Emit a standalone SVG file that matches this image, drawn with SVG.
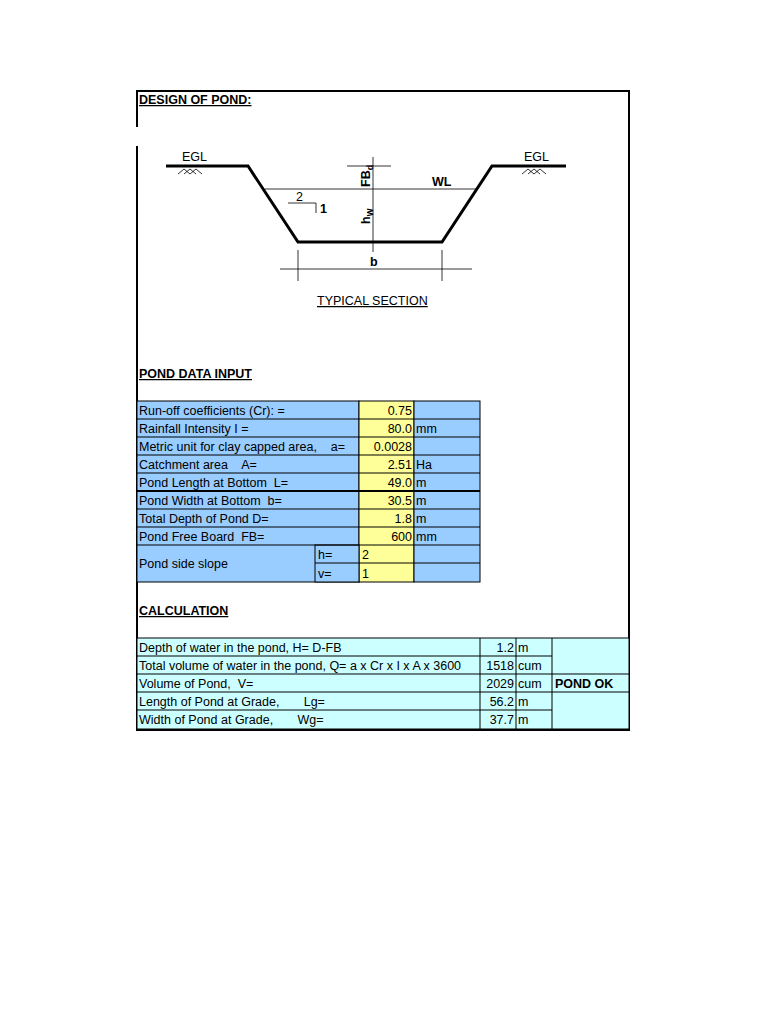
<svg xmlns="http://www.w3.org/2000/svg" width="768" height="1024" viewBox="0 0 768 1024">
<style>
text{font-family:"Liberation Sans",Arial,sans-serif;font-size:12.5px;fill:#000;white-space:pre}
.b{font-weight:bold}
.thin{stroke:#000;stroke-width:0.8;fill:none}
.thick{stroke:#000;stroke-width:3;fill:none}
.r{text-anchor:end}
</style>
<rect width="768" height="1024" fill="#fff"/>
<g id="frame" fill="none" stroke="#000" stroke-width="2">
<polyline points="137,127 137,91 629,91 629,730 137,730 137,146"/>
</g>
<text x="139" y="104" class="b" text-decoration="underline">DESIGN OF POND:</text>
<g id="section">
<polyline class="thick" points="166,166 248,166 298,242 442,242 492,166 566,166"/>
<line class="thin" x1="265" y1="189" x2="478" y2="189"/>
<line class="thin" x1="373" y1="157" x2="373" y2="252"/>
<line class="thin" x1="347" y1="166" x2="391" y2="166"/>
<line class="thin" x1="280" y1="269" x2="472" y2="269"/>
<line class="thin" x1="298" y1="250" x2="298" y2="281"/>
<line class="thin" x1="442" y1="250" x2="442" y2="281"/>
<line class="thin" x1="288" y1="203" x2="316" y2="203"/>
<line class="thin" x1="316" y1="203" x2="316" y2="213"/>
<g class="thin"><path d="M178,174 l6,-5 l6,5 M184,174 l6,-5 l6,5 M190,174 l6,-5 l6,5"/><path d="M522,174 l6,-5 l6,5 M528,174 l6,-5 l6,5 M534,174 l6,-5 l6,5"/></g>
<text x="182" y="161" font-size="10.5">EGL</text>
<text x="524" y="161" font-size="10.5">EGL</text>
<text x="432" y="186" font-size="11.5" class="b">WL</text>
<text x="296" y="201" font-size="10.5">2</text>
<text x="320" y="213" font-size="11.5" class="b">1</text>
<text x="370" y="266" font-size="11" class="b">b</text>
<text transform="translate(370,187) rotate(-90)" font-size="11.5" class="b">FB<tspan font-size="9" dy="3">d</tspan></text>
<text transform="translate(370,224) rotate(-90)" font-size="12" class="b">h<tspan font-size="10" dy="3">w</tspan></text>
<text x="317" y="305" font-size="11.5" text-decoration="underline">TYPICAL SECTION</text>
</g>
<text x="139" y="378" class="b" text-decoration="underline">POND DATA INPUT</text>
<g id="input" stroke="#000" stroke-width="1">
<rect x="137" y="401" width="222" height="181" fill="#99ccff"/>
<rect x="359" y="401" width="55" height="181" fill="#ffff99"/>
<rect x="414" y="401" width="66" height="181" fill="#99ccff"/>
<rect x="315" y="545" width="44" height="37" fill="#99ccff"/>
<path d="M137,419H480M137,437H480M137,455H480M137,473H480M137,509H480M137,527H480M137,545H480M315,563H480" fill="none"/>
<line x1="137" y1="491" x2="480" y2="491" stroke-width="2"/>
</g>
<g id="inputText">
<text x="139" y="415">Run-off coefficients (Cr): =</text><text x="412" y="415" class="r">0.75</text>
<text x="139" y="433">Rainfall Intensity I =</text><text x="412" y="433" class="r">80.0</text><text x="416" y="433">mm</text>
<text x="139" y="451">Metric unit for clay capped area,    a=</text><text x="412" y="451" class="r">0.0028</text>
<text x="139" y="469">Catchment area    A=</text><text x="412" y="469" class="r">2.51</text><text x="416" y="469">Ha</text>
<text x="139" y="487">Pond Length at Bottom  L=</text><text x="412" y="487" class="r">49.0</text><text x="416" y="487">m</text>
<text x="139" y="505">Pond Width at Bottom  b=</text><text x="412" y="505" class="r">30.5</text><text x="416" y="505">m</text>
<text x="139" y="523">Total Depth of Pond D=</text><text x="412" y="523" class="r">1.8</text><text x="416" y="523">m</text>
<text x="139" y="541">Pond Free Board  FB=</text><text x="412" y="541" class="r">600</text><text x="416" y="541">mm</text>
<text x="139" y="568">Pond side slope</text>
<text x="318" y="559">h=</text><text x="362" y="559">2</text>
<text x="318" y="578">v=</text><text x="362" y="578">1</text>
</g>
<text x="139" y="615" class="b" text-decoration="underline">CALCULATION</text>
<g id="calc" stroke="#000" stroke-width="1" fill="#ccffff">
<rect x="137" y="638" width="492" height="91"/>
<path d="M480,638V729M516,638V729M552,638V729M137,656H552M137,674H629M137,692H629M137,710H552" fill="none"/>
</g>
<g id="calcText">
<text x="139" y="652">Depth of water in the pond, H= D-FB</text><text x="514" y="652" class="r">1.2</text><text x="518" y="652">m</text>
<text x="139" y="670">Total volume of water in the pond, Q= a x Cr x I x A x 3600</text><text x="514" y="670" class="r">1518</text><text x="518" y="670">cum</text>
<text x="139" y="688">Volume of Pond,  V=</text><text x="514" y="688" class="r">2029</text><text x="518" y="688">cum</text><text x="555" y="688" class="b">POND OK</text>
<text x="139" y="706">Length of Pond at Grade,       Lg=</text><text x="514" y="706" class="r">56.2</text><text x="518" y="706">m</text>
<text x="139" y="724">Width of Pond at Grade,       Wg=</text><text x="514" y="724" class="r">37.7</text><text x="518" y="724">m</text>
</g>
</svg>
